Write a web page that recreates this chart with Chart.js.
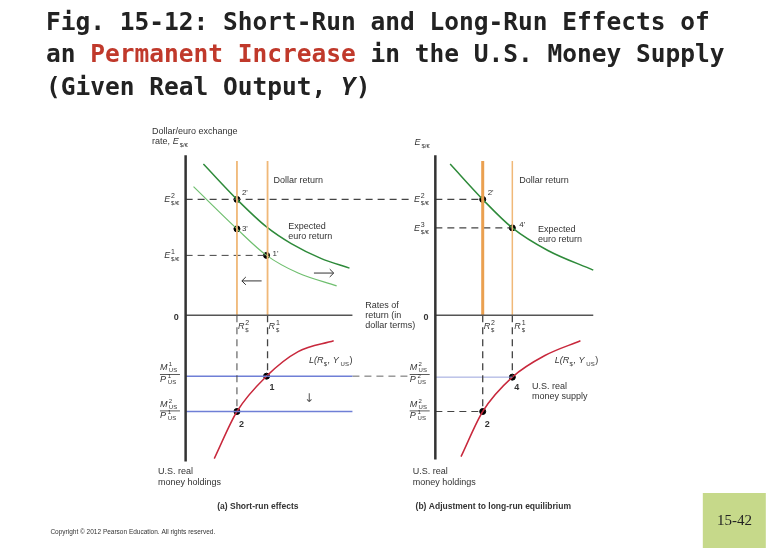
<!DOCTYPE html>
<html><head><meta charset="utf-8">
<script src="https://cdn.jsdelivr.net/npm/chart.js@4"></script>
<style>html,body{margin:0;padding:0;background:#fff}#c{display:block}</style>
</head><body><canvas id="c" width="770" height="552"></canvas>
<script>
// Curves (diagram coordinates, y grows downward)
const leftEuroNew = [[201,162],[235,198],[265,226],[290,243],[320,258],[349,268]];
const leftEuroOld = [[191,185],[235,228],[265,255],[297,273],[336,286]];
const leftMoneyDemand = [[212,462],[235,414],[265,378],[297,353],[333,342]];
const rightEuro = [[451,162],[484,198],[514,227],[550,250],[596,270]];
const rightMoneyDemand = [[462,460],[484,414],[514,379],[547,357],[583,342]];
const eqPoints = [[235,198],[235,228],[265,255],[265,378],[235,414],[484,198],[514,227],[514,379],[484,414]];
const seg = (a,b)=>[{x:a[0],y:a[1]},{x:b[0],y:b[1]}];
const pts = a=>a.map(p=>({x:p[0],y:p[1]}));
const line=(d,c,w,dash)=>({data:d,showLine:true,borderColor:c,borderWidth:w,pointRadius:0,borderDash:dash||[],fill:false});
const curve=(d,c,w)=>Object.assign(line(pts(d),c,w),{cubicInterpolationMode:'monotone'});
const ORANGE='#f0b878', BLUE='#6f7fd6', DASH=[7,5];
const datasets=[
 line(seg([183,153],[183,465]),'#333',2.5), line(seg([183,316],[352,316]),'#555',1.5),
 line(seg([436,153],[436,463]),'#333',2.5), line(seg([436,316],[596,316]),'#555',1.5),
 line(seg([235,159],[235,316]),ORANGE,1.8), line(seg([266,159],[266,316]),ORANGE,1.8),
 line(seg([484,159],[484,316]),'#eaa050',3), line(seg([514,159],[514,316]),ORANGE,1.5),
 line(seg([235,316],[235,414]),'#444',1,DASH), line(seg([266,316],[266,378]),'#444',1.3,DASH),
 line(seg([484,316],[484,414]),'#444',1.3,DASH), line(seg([514,316],[514,379]),'#444',1.3,DASH),
 line(seg([183,198],[410,198]),'#444',1.2,DASH), line(seg([183,255],[266,255]),'#444',1,DASH),
 line(seg([436,198],[484,198]),'#444',1.2,DASH), line(seg([436,227],[514,227]),'#444',1.2,DASH),
 line(seg([183,378],[352,378]),BLUE,1.5), line(seg([352,378],[410,378]),'#666',1,DASH),
 line(seg([183,414],[352,414]),BLUE,1.5), line(seg([436,379],[514,379]),'#9aa3dd',1),
 line(seg([436,414],[484,414]),'#444',1.2,DASH),
 curve(leftEuroNew,'#2e8a3a',1.5), curve(leftEuroOld,'#6fbf6f',1.2), curve(leftMoneyDemand,'#c8283c',1.5),
 curve(rightEuro,'#2e8a3a',1.5), curve(rightMoneyDemand,'#c8283c',1.5),
 line(seg([240,281],[260,281]),'#333',1), line(seg([313,273],[333,273]),'#333',1),
 {data:pts(eqPoints),pointRadius:3,pointBackgroundColor:'#000',pointBorderColor:'#000',showLine:false}
];
const labelsPlugin={id:'lbl',afterDatasetsDraw(ch){
 const c=ch.ctx,X=ch.scales.x,Y=ch.scales.y;
 const t=(s,x,y,f,col,al)=>{c.font=f;c.fillStyle=col||'#333';c.textAlign=al||'left';c.textBaseline='alphabetic';c.fillText(s,X.getPixelForValue(x),Y.getPixelForValue(y));};
 const sym=(b,sup,sub,x,y,al)=>{c.font='italic 9px Liberation Sans';let w=c.measureText(b).width;
  c.font='7px Liberation Sans';let w2=Math.max(c.measureText(sup).width,c.measureText(sub).width);
  let x0=al==='right'?x-w-w2-1:x; t(b,x0,y,'italic 9px Liberation Sans');
  t(sup,x0+w+1,y-4,'7px Liberation Sans'); t(sub,x0+w+1,y+3,'6px Liberation Sans');};
 const frac=(m,p,msup,psup,x,y)=>{t(m,x,y,'italic 9px Liberation Sans');t(msup,x+9,y-4,'6px Liberation Sans');t('US',x+9,y+2,'6px Liberation Sans');
  c.fillStyle='#333';c.fillRect(X.getPixelForValue(x),Y.getPixelForValue(y+4),20,0.8);
  t(p,x,y+12,'italic 9px Liberation Sans');t(psup,x+8,y+8,'6px Liberation Sans');t('US',x+8,y+14,'6px Liberation Sans');};
 const B='bold 24.5px DejaVu Sans Mono';
 c.font=B;c.textAlign='left';c.fillStyle='#222';c.fillText('Fig. 15-12: Short-Run and Long-Run Effects of',46,30);
 c.fillStyle='#222';c.fillText('an ',46,62);let w=c.measureText('an ').width;
 c.fillStyle='#c0392b';c.fillText('Permanent Increase',46+w,62);w+=c.measureText('Permanent Increase').width;
 c.fillStyle='#222';c.fillText(' in the U.S. Money Supply',46+w,62);
 c.fillText('(Given Real Output, ',46,95);w=c.measureText('(Given Real Output, ').width;
 c.font='italic bold 24.5px DejaVu Sans Mono';c.fillText('Y',46+w,95);w+=c.measureText('Y').width;c.font=B;c.fillText(')',46+w,95);
 const f='9px Liberation Sans';
 t('Dollar/euro exchange',149,131,f);t('rate, ',149,142,f);sym('E','','$/€',170,142);
 sym('E','','$/€',415,143);
 sym('E','2','$/€',178,201,'right');sym('E','1','$/€',178,258,'right');
 sym('E','2','$/€',431,201,'right');sym('E','3','$/€',431,230,'right');
 t('0',176,321,'bold 9px Liberation Sans','#333','right');t('0',429,321,'bold 9px Liberation Sans','#333','right');
 t('Dollar return',272,181,f);t('Dollar return',521,181,f);
 t('Expected',287,228,f);t('euro return',287,238,f);t('Expected',540,231,f);t('euro return',540,241,f);
 t('Rates of',365,309,f);t('return (in',365,319,f);t('dollar terms)',365,329,f);
 t('2\'',240,194,'8px Liberation Sans');t('3\'',240,230,'8px Liberation Sans');t('1\'',271,256,'8px Liberation Sans');
 t('2\'',489,194,'8px Liberation Sans');t('4\'',521,226,'8px Liberation Sans');
 sym('R','2','$',236,330);sym('R','1','$',267,330);sym('R','2','$',485,330);sym('R','1','$',516,330);
 t('1',268,392,'bold 9px Liberation Sans');t('2',237,430,'bold 9px Liberation Sans');
 t('4',516,392,'bold 9px Liberation Sans');t('2',486,430,'bold 9px Liberation Sans');
 t('L(R',308,365,'italic 9px Liberation Sans');t('$',323,368,'6px Liberation Sans');t(', Y',327,365,'italic 9px Liberation Sans');t('US',340,368,'6px Liberation Sans');t(')',349,365,'9px Liberation Sans');
 t('L(R',557,365,'italic 9px Liberation Sans');t('$',572,368,'6px Liberation Sans');t(', Y',576,365,'italic 9px Liberation Sans');t('US',589,368,'6px Liberation Sans');t(')',598,365,'9px Liberation Sans');
 frac('M','P','1','1',157,372);frac('M','P','2','1',157,409);frac('M','P','2','2',410,372);frac('M','P','2','1',410,409);
 t('U.S. real',534,391,f);t('money supply',534,401,f);
 t('U.S. real',155,478,f);t('money holdings',155,489,f);t('U.S. real',413,478,f);t('money holdings',413,489,f);
 t('(a) Short-run effects',215,513,'bold 8.5px Liberation Sans');t('(b) Adjustment to long-run equilibrium',416,513,'bold 8.5px Liberation Sans');
 t('↓',308,404,'12px DejaVu Sans','#555','center');
 t('Copyright © 2012 Pearson Education. All rights reserved.',46,539,'6.5px Liberation Sans','#333');
 c.fillStyle='#c6d98a';c.fillRect(X.getPixelForValue(707),Y.getPixelForValue(497),63,55);
 t('15-42',739,530,'15px Liberation Serif','#222','center');
 c.strokeStyle='#333';c.lineWidth=1;c.beginPath();
 c.moveTo(X.getPixelForValue(244),Y.getPixelForValue(277));c.lineTo(X.getPixelForValue(240),Y.getPixelForValue(281));c.lineTo(X.getPixelForValue(244),Y.getPixelForValue(285));
 c.moveTo(X.getPixelForValue(329),Y.getPixelForValue(269));c.lineTo(X.getPixelForValue(333),Y.getPixelForValue(273));c.lineTo(X.getPixelForValue(329),Y.getPixelForValue(277));c.stroke();
}};
new Chart(document.getElementById('c'),{type:'scatter',data:{datasets},
 options:{responsive:false,animation:false,layout:{padding:0},
  plugins:{legend:{display:false},tooltip:{enabled:false}},
  scales:{x:{type:'linear',min:0,max:770,display:false},y:{type:'linear',min:0,max:552,reverse:true,display:false}}},
 plugins:[labelsPlugin]});
</script></body></html>
